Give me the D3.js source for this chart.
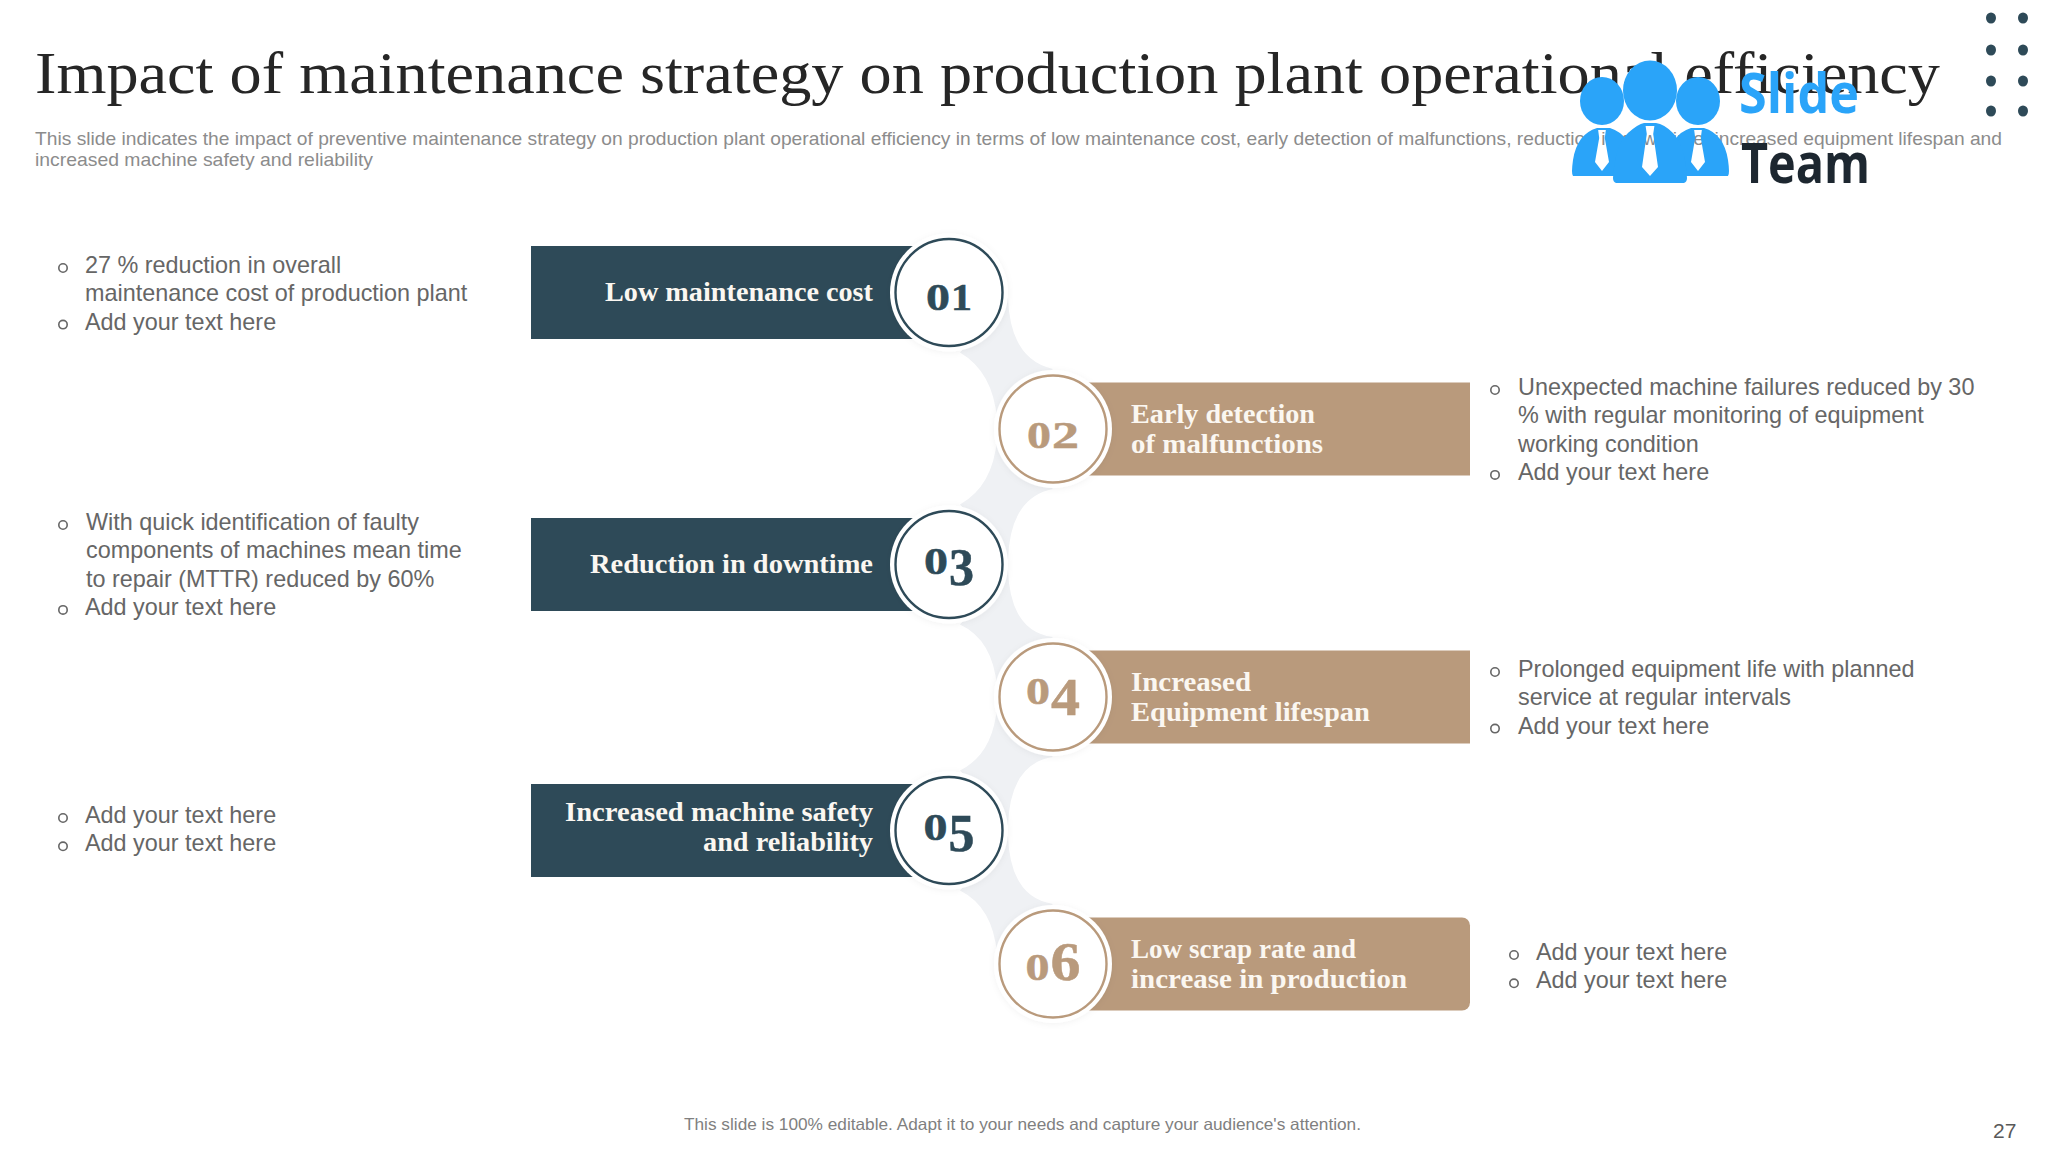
<!DOCTYPE html>
<html>
<head>
<meta charset="utf-8">
<style>
html,body{margin:0;padding:0;background:#fff;}
svg{display:block;}
</style>
<script src="https://cdnjs.cloudflare.com/ajax/libs/d3/7.8.5/d3.min.js"></script>
</head>
<body>
<svg id="chart" width="2048" height="1152"></svg>
<script>
const titleText = "Impact of maintenance strategy on production plant operational efficiency";
const subtitleLines = [
  "This slide indicates the impact of preventive maintenance strategy on production plant operational efficiency in terms of low maintenance cost, early detection of malfunctions, reduction in downtime, increased equipment lifespan and",
  "increased machine safety and reliability"
];
const footerText = "This slide is 100% editable. Adapt it to your needs and capture your audience's attention.";
const pageNumber = "27";
const stepNumbers = ["01","02","03","04","05","06"];
const stepSides = ["left","right","left","right","left","right"];
const stepLabels = [
  ["Low maintenance cost"],
  ["Early detection","of malfunctions"],
  ["Reduction in downtime"],
  ["Increased","Equipment lifespan"],
  ["Increased machine safety","and reliability"],
  ["Low scrap rate and","increase in production"]
];
const stepNotes = [
  [["27 % reduction in overall","maintenance cost of production plant"],["Add your text here"]],
  [["Unexpected machine failures reduced by 30","% with regular monitoring of equipment","working condition"],["Add your text here"]],
  [["With quick identification of faulty","components of machines mean time","to repair (MTTR) reduced by 60%"],["Add your text here"]],
  [["Prolonged equipment life with planned","service at regular intervals"],["Add your text here"]],
  [["Add your text here"],["Add your text here"]],
  [["Add your text here"],["Add your text here"]]
];

const svg = d3.select("#chart");
const NAVY = "#2e4a58", TAN = "#b99a7c";
const color = d3.scaleOrdinal().domain(["left","right"]).range([NAVY,TAN]);
const cy = d3.scaleOrdinal().domain(stepNumbers).range([292.5,429,564.5,697,830.5,964]);
const cx = d3.scaleOrdinal().domain(["left","right"]).range([949,1053]);
const rows = stepNumbers.map((n,i)=>({n,i,side:stepSides[i],label:stepLabels[i],notes:stepNotes[i]}));

const defs = svg.append("defs");
const f = defs.append("filter").attr("id","soft").attr("x","-30%").attr("y","-30%").attr("width","160%").attr("height","160%");
f.append("feDropShadow").attr("dx",0).attr("dy",1).attr("stdDeviation",3).attr("flood-color","#000").attr("flood-opacity",0.05);

/* title */
svg.append("text").attr("x",35).attr("y",93).text(titleText)
  .attr("font-family","'Liberation Serif',serif").attr("font-size",60).attr("fill","#262626")
  .attr("textLength",1905).attr("lengthAdjust","spacingAndGlyphs");
svg.selectAll("text.sub").data(subtitleLines).join("text").attr("class","sub")
  .attr("x",35).attr("y",(d,i)=>145+i*21).text(d=>d)
  .attr("font-family","'Liberation Sans',sans-serif").attr("font-size",19).attr("fill","#8c8c8c")
  .attr("textLength",(d,i)=>i===0?1967:338).attr("lengthAdjust","spacingAndGlyphs");

/* connector */
const connector = (a,b) => {
  const l = a.side==="left"?a:b, r = a.side==="right"?a:b;
  const A = {x:cx(l.side), y:cy(l.n)}, B = {x:cx(r.side), y:cy(r.n)};
  const s = B.y>A.y?1:-1;
  const p = d3.path();
  p.moveTo(A.x+59,A.y+5*s);
  p.quadraticCurveTo(A.x+61,A.y+67*s,B.x,B.y-60*s);
  p.lineTo(B.x-56,B.y-10*s);
  p.quadraticCurveTo(B.x-60,B.y-57*s,A.x+11,A.y+60*s);
  p.closePath();
  return p.toString();
};
svg.selectAll("path.link").data(d3.pairs(rows)).join("path").attr("class","link")
  .attr("d",d=>connector(d[0],d[1])).attr("fill","#eff1f4");

/* bars */
svg.selectAll("rect.bar").data(rows).join("rect").attr("class","bar")
  .attr("x",d=>d.side==="left"?531:cx(d.side))
  .attr("width",d=>d.side==="left"?cx(d.side)-531:1470-cx(d.side))
  .attr("y",d=>cy(d.n)-46.5).attr("height",93)
  .attr("rx",d=>d.i===5?8:0).attr("fill",d=>color(d.side));

/* circles */
svg.selectAll("circle.halo").data(rows).join("circle").attr("class","halo")
  .attr("cx",d=>cx(d.side)).attr("cy",d=>cy(d.n)).attr("r",59).attr("fill","#fff").attr("filter","url(#soft)");
svg.selectAll("circle.ring").data(rows).join("circle").attr("class","ring")
  .attr("cx",d=>cx(d.side)).attr("cy",d=>cy(d.n)).attr("r",53.5).attr("fill","#fff")
  .attr("stroke",d=>color(d.side)).attr("stroke-width",2.4);

/* old-style numerals emulated from lining digits */
const zeroW = 24;
const digitW = {"1":21,"2":27,"3":25,"4":29,"5":26,"6":30};
const digitSize = {"1":37,"2":37,"3":52,"4":52,"5":52,"6":54};
const digitDrop = {"1":0,"2":0,"3":10.5,"4":10.5,"5":10.5,"6":0};
const zeroBase = {"1":17.5,"2":19,"3":9.5,"4":7,"5":9.5,"6":16};
const num = svg.selectAll("text.num").data(rows).join("text").attr("class","num")
  .attr("x",d=>cx(d.side)-(zeroW+digitW[d.n[1]]+1)/2)
  .attr("y",d=>cy(d.n)+zeroBase[d.n[1]])
  .attr("font-family","'Liberation Serif',serif").attr("font-weight","bold")
  .attr("fill",d=>color(d.side)).attr("stroke",d=>color(d.side)).attr("stroke-width",0.5);
num.append("tspan").attr("font-size",37).attr("textLength",zeroW).attr("lengthAdjust","spacingAndGlyphs").text(d=>d.n[0]);
num.append("tspan").attr("dx",1)
  .attr("font-size",d=>digitSize[d.n[1]])
  .attr("dy",d=>digitDrop[d.n[1]])
  .attr("textLength",d=>digitW[d.n[1]]).attr("lengthAdjust","spacingAndGlyphs")
  .text(d=>d.n[1]);

/* bar labels */
const labelWidths = [[268],[184,192],[283],[120,239],[308,170],[225,276]];
const labelLayout = rows.flatMap(d=>d.label.map((line,j)=>({line,j,d,w:labelWidths[d.i][j]})));
svg.selectAll("text.lab").data(labelLayout).join("text").attr("class","lab")
  .attr("x",e=>e.d.side==="left"?873:1131)
  .attr("y",e=>{
    const c=cy(e.d.n);
    if(e.d.label.length===1) return c+8.5;
    return c+(e.d.side==="left"?-10:-6.5)+e.j*30;
  })
  .attr("text-anchor",e=>e.d.side==="left"?"end":"start")
  .attr("font-family","'Liberation Serif',serif").attr("font-weight","bold")
  .attr("font-size",28).attr("fill","#fbf7f1")
  .attr("textLength",e=>e.w).attr("lengthAdjust","spacingAndGlyphs").text(e=>e.line);

/* notes */
const noteX = [85,1518,85,1518,85,1536];
const bulletX = [63,1495,63,1495,63,1514];
const noteY = [273,395,530,677,823,960];
const PITCH = 28.3;
rows.forEach(r=>{
  let k=0;
  const lines=[];
  r.notes.forEach((item,m)=>item.forEach((line,j)=>{lines.push({line,k,m,first:j===0});k++;}));
  const g=svg.append("g").attr("class","note");
  g.selectAll("text").data(lines).join("text")
    .attr("x",d=>noteX[r.i]+(r.i===2&&d.m===0?1:0)).attr("y",d=>noteY[r.i]+d.k*PITCH).text(d=>d.line)
    .attr("font-family","'Liberation Sans',sans-serif").attr("font-size",23.4).attr("fill","#666");
  g.selectAll("circle").data(lines.filter(d=>d.first)).join("circle")
    .attr("cx",bulletX[r.i]).attr("cy",d=>noteY[r.i]+d.k*PITCH-5).attr("r",4.2)
    .attr("fill","none").attr("stroke","#666").attr("stroke-width",1.6);
});

/* logo: ties are holes, the text behind shows through */
const BLUE="#2aa4f9";
const logo=svg.append("g").attr("class","logo");
const tie=(x,t,b,w)=>`M${x-w*0.55} ${t} L${x+w*0.55} ${t} L${x+w*0.4} ${t+8} L${x+w} ${b-9} L${x} ${b} L${x-w} ${b-9} L${x-w*0.4} ${t+8} Z`;
const sideBodies=[
  "M1573 176 Q1571 174 1573 160 Q1577 134 1597 128 L1610 128 Q1622 132 1626 140 L1616 176 Z "+tie(1602,130,171,7),
  "M1728 176 Q1730 174 1728 160 Q1724 134 1704 128 L1691 128 Q1679 132 1675 140 L1685 176 Z "+tie(1698,130,171,7)
];
logo.selectAll("path.b").data(sideBodies).join("path").attr("class","b")
  .attr("d",d=>d).attr("fill",BLUE).attr("fill-rule","evenodd");
logo.selectAll("ellipse").data([[1602,101,22,24],[1698,101,22,24],[1650,90.5,27,30]]).join("ellipse")
  .attr("cx",d=>d[0]).attr("cy",d=>d[1]).attr("rx",d=>d[2]).attr("ry",d=>d[3]).attr("fill",BLUE);
logo.append("path")
  .attr("d","M1616 183 Q1613 182 1613 178 Q1615 145 1628 133 Q1638 124 1644 123 L1656 123 Q1664 124 1673 133 Q1685 145 1687 178 Q1687 182 1684 183 Z "+tie(1650,126,176,8))
  .attr("fill",BLUE).attr("fill-rule","evenodd");
logo.append("text").attr("x",1739).attr("y",113).text("Slide")
  .attr("font-family","'Open Sans',sans-serif").attr("font-weight","bold").attr("font-size",56).attr("fill",BLUE)
  .attr("textLength",120).attr("lengthAdjust","spacingAndGlyphs");
logo.append("text").attr("x",1741).attr("y",183).text("Team")
  .attr("font-family","'Open Sans',sans-serif").attr("font-weight","bold").attr("font-size",56).attr("fill","#1d2730")
  .attr("textLength",129).attr("lengthAdjust","spacingAndGlyphs");

/* dots */
const dotX=[1991,2023], dotY=[18,50,81,111];
svg.selectAll("ellipse.dot").data(d3.cross(dotX,dotY)).join("ellipse").attr("class","dot")
  .attr("cx",d=>d[0]).attr("cy",d=>d[1]).attr("rx",5).attr("ry",5.5).attr("fill",NAVY);

/* footer */
svg.append("text").attr("x",684).attr("y",1130).text(footerText)
  .attr("font-family","'Liberation Sans',sans-serif").attr("font-size",16.5).attr("fill","#808080")
  .attr("textLength",677).attr("lengthAdjust","spacingAndGlyphs");
svg.append("text").attr("x",1993).attr("y",1138).text(pageNumber)
  .attr("font-family","'Liberation Sans',sans-serif").attr("font-size",21).attr("fill","#595959");
</script>
</body>
</html>
